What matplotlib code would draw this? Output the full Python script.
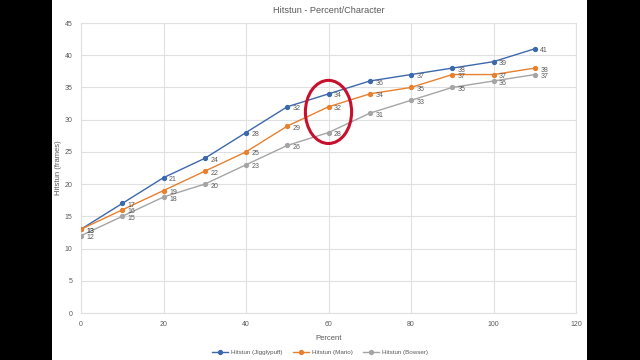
import matplotlib
matplotlib.use("Agg")
import matplotlib.pyplot as plt
from matplotlib.patches import Rectangle, Ellipse

percent = [0, 10, 20, 30, 40, 50, 60, 70, 80, 90, 100, 110]
jigglypuff = [13, 17, 21, 24, 28, 32, 34, 36, 37, 38, 39, 41]
mario = [13, 16, 19, 22, 25, 29, 32, 34, 35, 37, 37, 38]
bowser = [12, 15, 18, 20, 23, 26, 28, 31, 33, 35, 36, 37]
series_names = ["Hitstun (Jigglypuff)", "Hitstun (Mario)", "Hitstun (Bowser)"]
highlight_x = 60
highlight_y = 31.2

plt.rcParams['font.family'] = ['Liberation Sans', 'DejaVu Sans']

fig = plt.figure(figsize=(6.4, 3.6), dpi=100, facecolor='black')
fig.patches.append(Rectangle((52/640, 0), (587-52)/640, 1, transform=fig.transFigure,
                             facecolor='white', edgecolor='none', zorder=-10))

ax = fig.add_axes([81/640, 47/360, (576-81)/640, (313-23)/360])
ax.set_zorder(1)
ax.set_facecolor('white')

colors = ['#3D68AC', '#E8802E', '#A5A5A5']
for ys, name, c in zip([jigglypuff, mario, bowser], series_names, colors):
    ax.plot(percent, ys, color=c, lw=1.0, marker='o', ms=2.8, label=name, zorder=3)
    for x, y in zip(percent, ys):
        ax.annotate(str(y), (x, y), xytext=(4, -1.5), textcoords='offset points',
                    fontsize=5, color='#595959', va='center', ha='left', zorder=4)

ax.add_patch(Ellipse((highlight_x, highlight_y), 11.2, 9.8, fill=False,
                     edgecolor='#C8102E', lw=2.2, zorder=5))

ax.set_xlim(0, 120)
ax.set_ylim(0, 45)
ax.set_xticks(range(0, 121, 20))
ax.set_yticks(range(0, 46, 5))
ax.grid(True, color='#E0E0E0', lw=0.8)
ax.set_axisbelow(True)
for s in ax.spines.values():
    s.set_color('#E0E0E0')
    s.set_linewidth(0.8)
ax.tick_params(length=0, labelsize=5, colors='#595959', pad=6)

ax.set_title('Hitstun - Percent/Character', fontsize=6.6, color='#595959', pad=7)
ax.set_xlabel('Percent', fontsize=5.5, color='#595959', labelpad=5)
ax.set_ylabel('Hitstun (frames)', fontsize=5.5, color='#595959')
ax.yaxis.set_label_coords(-0.038, 0.5)

leg = fig.legend(loc='center', bbox_to_anchor=(320/640, 1 - 352/360), ncol=3,
                 fontsize=4.5, frameon=False, handlelength=2.6, columnspacing=1.6,
                 handletextpad=0.5, labelcolor='#595959')

fig.savefig('out.png', dpi=100, facecolor='black')
